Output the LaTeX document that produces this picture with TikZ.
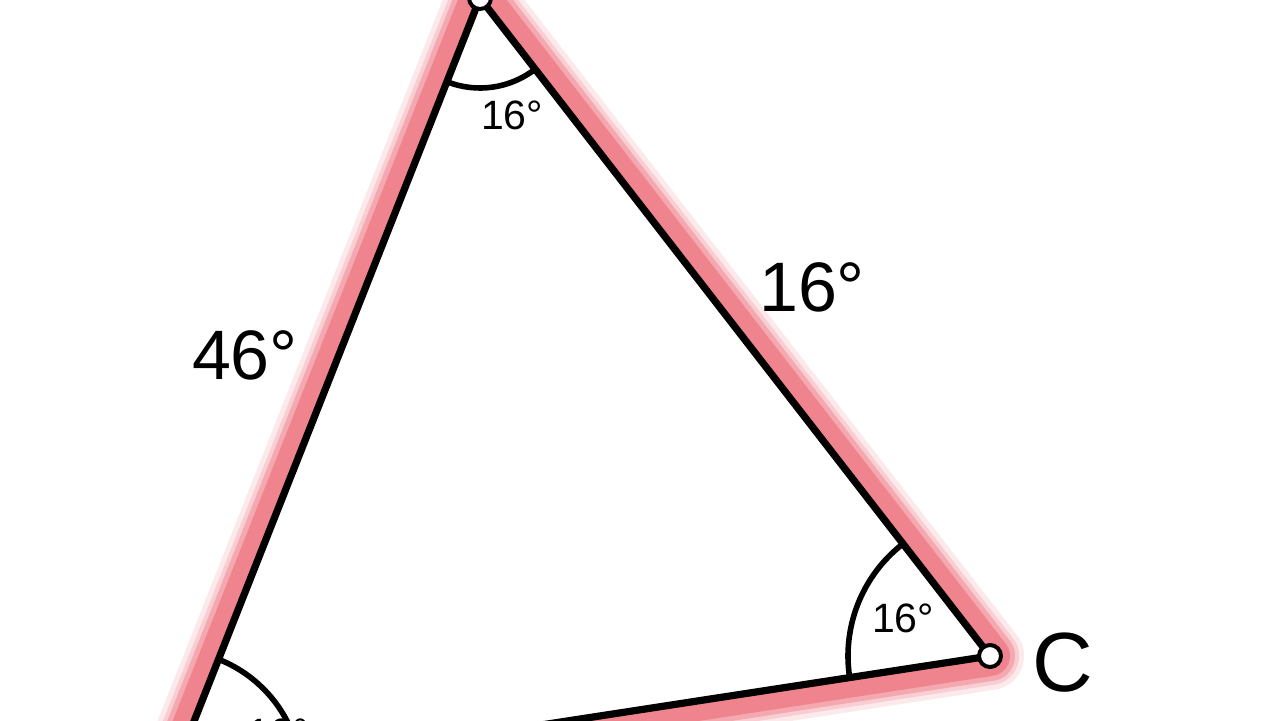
\documentclass[tikz,border=0pt]{standalone}
\usepackage{fontspec}
\setmainfont{Liberation Sans}
\usetikzlibrary{angles}
\definecolor{glow}{HTML}{F0848E}
\tikzset{
  edge/.style={draw=black, line width=3.6pt, line join=round},
  glowA/.style={draw=glow!18, line width=34pt, line join=round},
  glowB/.style={draw=glow!40, line width=29pt, line join=round},
  glowC/.style={draw=glow!70, line width=25pt, line join=round},
  glowD/.style={draw=glow, line width=20pt, line join=round},
  vtx/.style={circle, draw=black, fill=white, line width=2pt, minimum size=11pt, inner sep=0pt},
  big/.style={font=\fontsize{35}{40}\selectfont, inner sep=0pt},
  small/.style={font=\fontsize{20.5}{24}\selectfont, inner sep=0pt},
  vlabel/.style={font=\fontsize{42}{48}\selectfont, inner sep=0pt},
  anglemark/.style={draw=black, line width=2.8pt}
}
\begin{document}
\begin{tikzpicture}[x=0.5pt,y=-0.5pt]
\useasboundingbox (0,0) rectangle (1280,720);
\clip (0,0) rectangle (1280,720);
\fill[white] (0,0) rectangle (1280,720);
\coordinate (A) at (480,-2);
\coordinate (B) at (170,782);
\coordinate (C) at (990,656);
% glow
\draw[glowA] (A) -- (B) -- (C) -- cycle;
\draw[glowB] (A) -- (B) -- (C) -- cycle;
\draw[glowC] (A) -- (B) -- (C) -- cycle;
\draw[glowD] (A) -- (B) -- (C) -- cycle;
\fill[white] (A) -- (B) -- (C) -- cycle;
% angle marks
\pic[anglemark, angle radius=45pt] {angle = B--A--C};
\pic[anglemark, angle radius=71pt] {angle = A--C--B};
\pic[anglemark, angle radius=66pt] {angle = C--B--A};
% edges
\draw[edge] (A) -- (B) -- (C) -- cycle;
\node[vtx] (vA) at (A) {};
\node[vtx] (vC) at (C) {};
% labels
\node[big] (l46) at (245,355) {46°};
\node[big] (l16) at (812,287) {16°};
\node[small] (aA) at (512,115) {16°};
\node[small] (aC) at (903,618) {16°};
\node[small] (aB) at (278,733) {16°};
\node[vlabel] (lC) at (1063,663) {C};
\end{tikzpicture}
\end{document}
